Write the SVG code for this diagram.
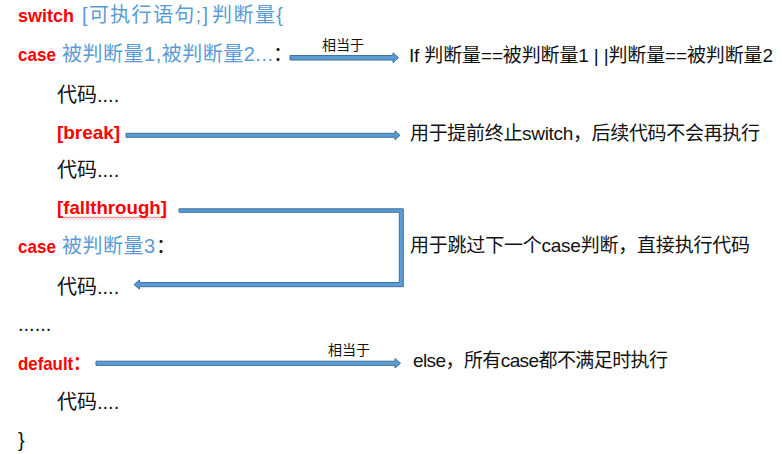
<svg xmlns="http://www.w3.org/2000/svg" width="782" height="454" viewBox="0 0 782 454">
<style>
text{font-family:'Liberation Sans','Noto Sans CJK SC',sans-serif;}
.kw{fill:#FF0000;font-weight:bold;font-size:19px;}
.bl{fill:#5B9BD5;font-size:20px;}
.tx{fill:#111;font-size:20px;}
.rt{fill:#111;font-size:19px;}
.lb{fill:#111;font-size:14px;}
.arr{fill:#5B9BD5;stroke:#41719C;stroke-width:1;stroke-linejoin:miter;}
</style>
<defs>
<pattern id="wavy" x="0" y="0" width="4" height="3" patternUnits="userSpaceOnUse">
<polyline points="0,2.5 2,0.5 4,2.5" fill="none" stroke="#FF0000" stroke-width="0.8"/>
</pattern>
</defs>
<rect width="782" height="454" fill="#FFFFFF"/>

<g id="line-switch">
<text class="kw" x="18" y="22" textLength="56" lengthAdjust="spacingAndGlyphs">switch</text>
<text class="bl" x="82" y="22" textLength="126">[可执行语句;]</text>
<text class="bl" x="212" y="22" textLength="71">判断量{</text>
</g>

<g id="line-case1">
<text class="kw" x="18" y="61" textLength="38" lengthAdjust="spacingAndGlyphs">case</text>
<text class="bl" x="62" y="61" textLength="211">被判断量1,被判断量2...</text>
<text class="tx" x="273" y="61">：</text>
</g>

<g id="note-if">
<text class="rt" x="409" y="62" textLength="364">If 判断量==被判断量1 | |判断量==被判断量2</text>
</g>

<g id="code1"><text class="tx" x="57" y="102">代码....</text></g>

<g id="line-break">
<text class="kw" x="57" y="139" textLength="63">[break]</text>
</g>

<g id="note-break">
<text class="rt" x="410" y="140" textLength="350">用于提前终止switch，后续代码不会再执行</text>
</g>

<g id="code2"><text class="tx" x="57" y="177">代码....</text></g>

<g id="line-fallthrough">
<text class="kw" x="57" y="214" textLength="110" lengthAdjust="spacingAndGlyphs">[fallthrough]</text>
<rect x="61" y="216.5" width="104" height="3" fill="url(#wavy)"/>
</g>

<g id="line-case3">
<text class="kw" x="18" y="253" textLength="38" lengthAdjust="spacingAndGlyphs">case</text>
<text class="bl" x="62" y="253" textLength="93">被判断量3</text>
<text class="tx" x="156" y="253">：</text>
</g>

<g id="note-fallthrough">
<text class="rt" x="410" y="252" textLength="340">用于跳过下一个case判断，直接执行代码</text>
</g>

<g id="code3"><text class="tx" x="57" y="294">代码....</text></g>

<g id="ellipsis"><text class="tx" x="18" y="331">......</text></g>

<g id="line-default">
<text class="kw" x="18" y="370" textLength="72" lengthAdjust="spacingAndGlyphs">default：</text>
</g>

<g id="note-default">
<text class="rt" x="413" y="367" textLength="255">else，所有case都不满足时执行</text>
</g>

<g id="code4"><text class="tx" x="57" y="409">代码....</text></g>

<g id="brace"><text class="tx" x="18" y="447">}</text></g>

<g id="connectors">
<polygon class="arr" points="290,55.5 393,55.5 393,52.7 398.5,57.7 393,62.7 393,60 290,60"/>
<text class="lb" x="322" y="50">相当于</text>
<polygon class="arr" points="126,133.3 395,133.3 395,130.8 400,135.3 395,139.8 395,137.3 126,137.3"/>
<polygon class="arr" points="179,208.8 403.3,208.8 403.3,286.7 139.5,286.7 139.5,289.2 134,284.6 139.5,280 139.5,282.5 399.3,282.5 399.3,212.3 179,212.3"/>
<polygon class="arr" points="96,361.2 395,361.2 395,358.5 400.5,363.3 395,368 395,365.4 96,365.4"/>
<text class="lb" x="328" y="355">相当于</text>
</g>
</svg>
